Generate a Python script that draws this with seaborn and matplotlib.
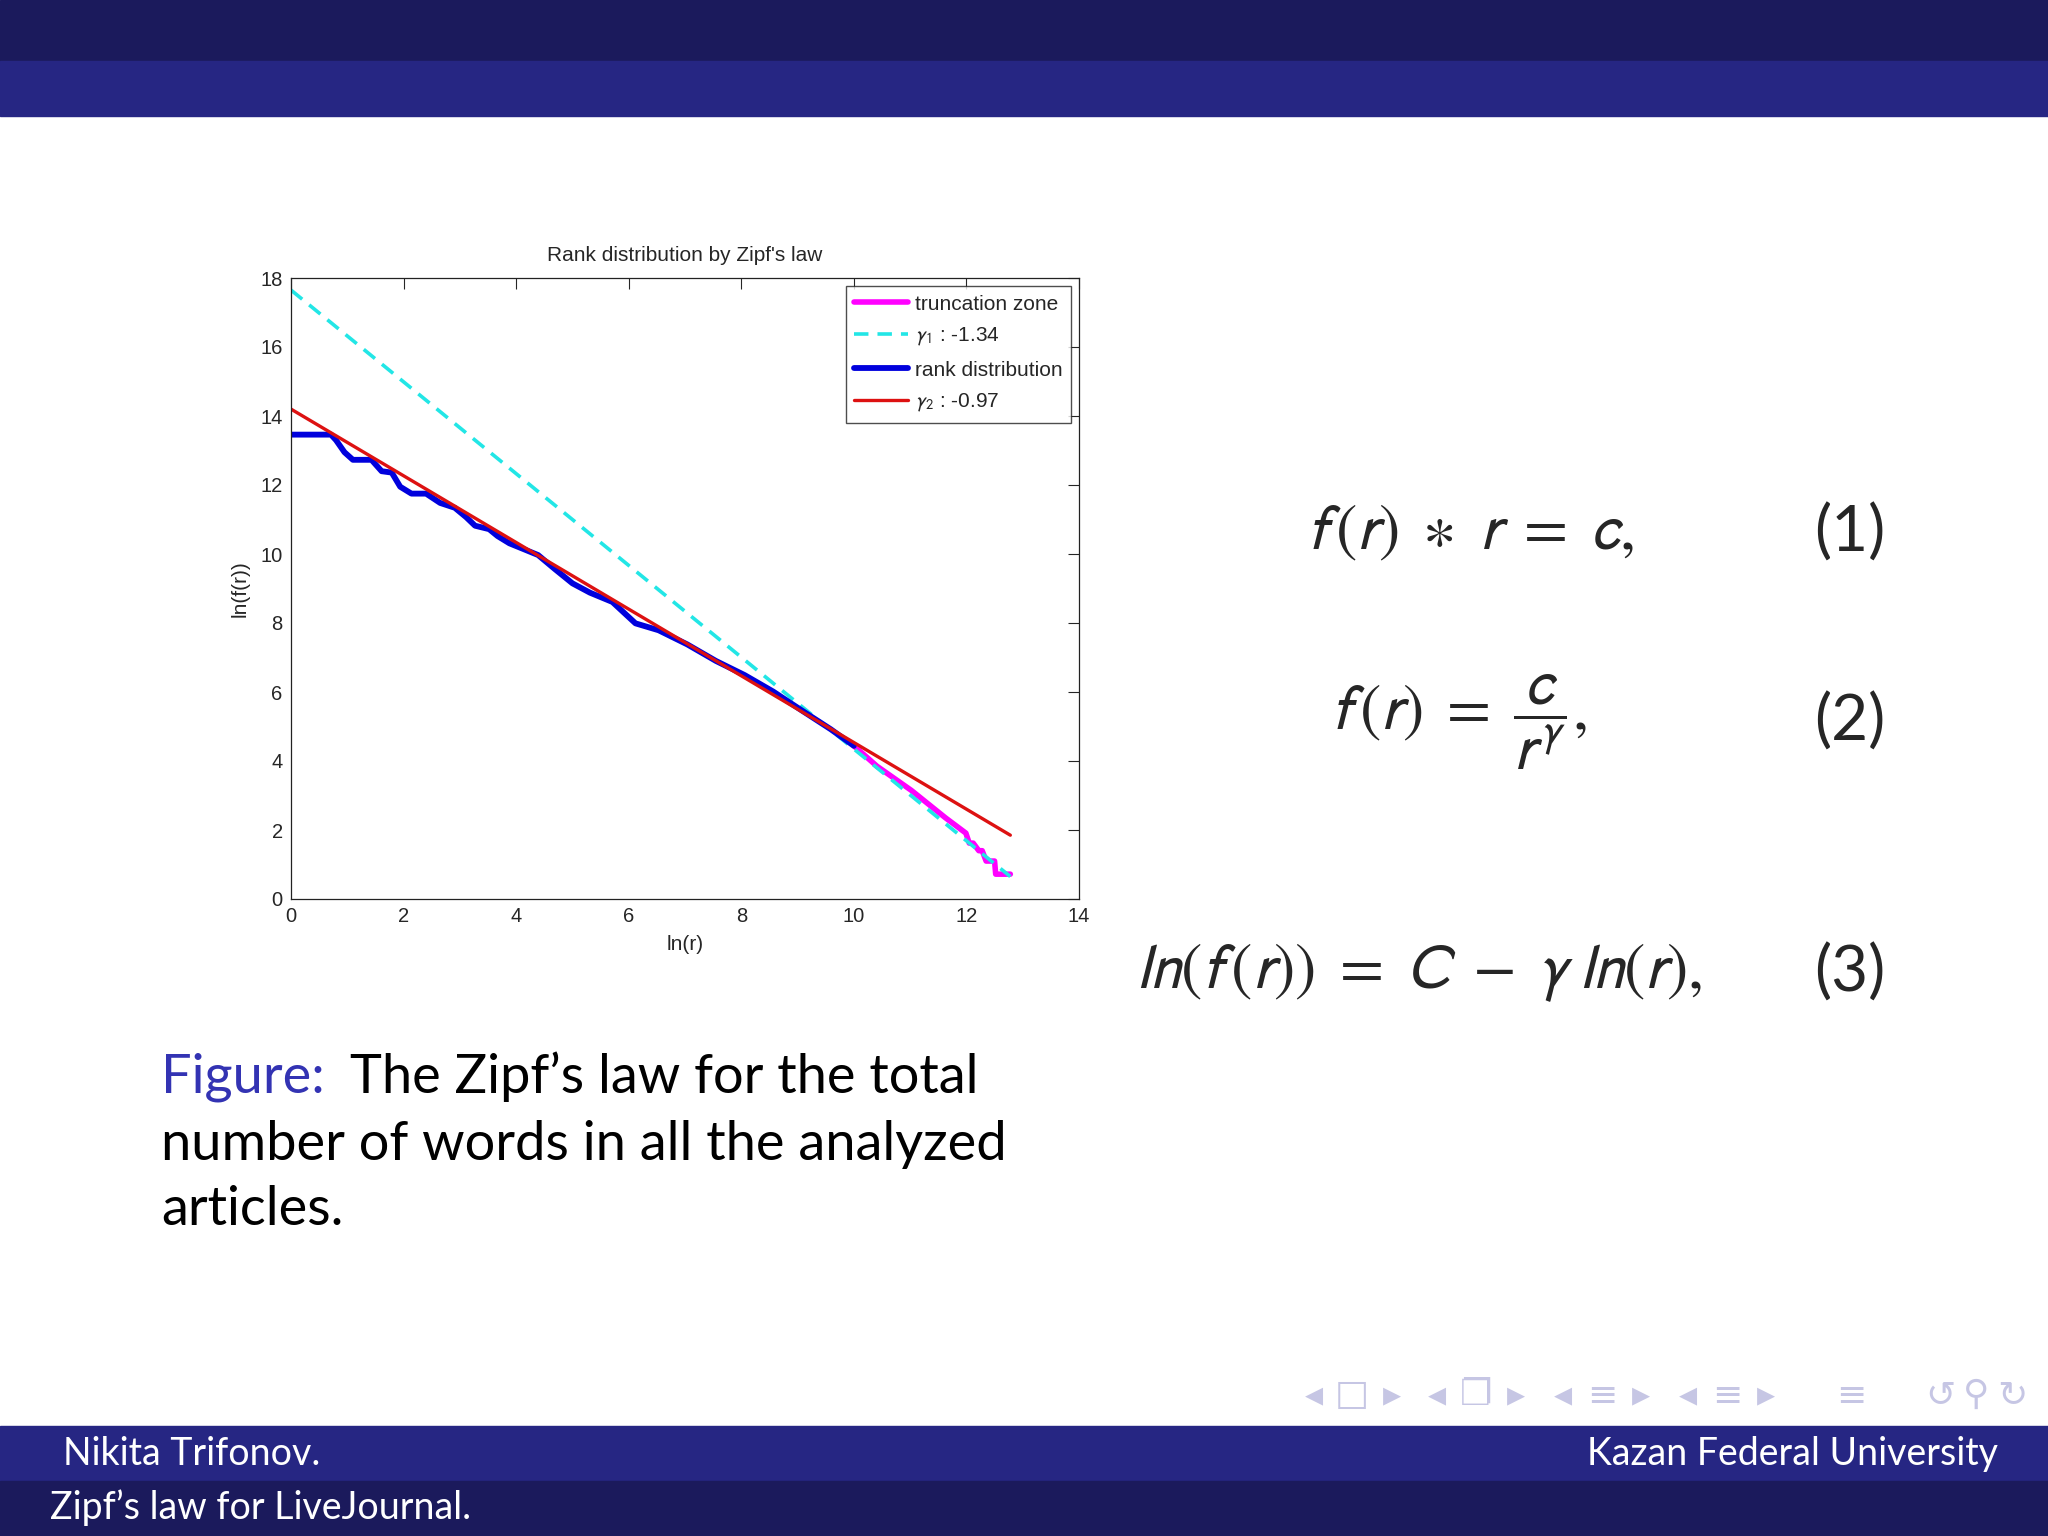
import matplotlib
matplotlib.use('Agg')
import matplotlib.pyplot as plt
import seaborn as sns
from matplotlib.patches import Rectangle

# Datos (ln(r), ln(f(r)))
rank_x = [0.0, 0.71, 0.80, 0.95, 1.10, 1.43, 1.61, 1.79, 1.94, 2.14, 2.40, 2.65,
          2.91, 3.11, 3.27, 3.52, 3.67, 3.88, 4.39, 4.69, 5.00, 5.31, 5.71, 6.12,
          6.53, 7.04, 7.55, 8.06, 8.57, 9.08, 9.59, 10.0]
rank_y = [13.46, 13.46, 13.30, 12.95, 12.73, 12.73, 12.40, 12.36, 11.95, 11.75, 11.75, 11.48,
          11.34, 11.07, 10.82, 10.72, 10.52, 10.31, 9.97, 9.56, 9.15, 8.88, 8.61, 7.99,
          7.79, 7.38, 6.90, 6.49, 6.01, 5.46, 4.92, 4.44]

trunc_x = [10.0, 10.41, 11.02, 11.63, 11.99, 12.05, 12.12, 12.22, 12.28, 12.35, 12.50, 12.52, 12.78]
trunc_y = [4.44, 3.85, 3.15, 2.35, 1.91, 1.62, 1.62, 1.40, 1.40, 1.10, 1.10, 0.72, 0.72]

# rectas ajustadas (extremos)
fit_x = [0.0, 12.78]
gamma1_y = [17.65, 0.65]
gamma2_y = [14.20, 1.85]

labels = ['truncation zone', r'$\gamma_1$ : -1.34', 'rank distribution', r'$\gamma_2$ : -0.97']
x_ticks = [0, 2, 4, 6, 8, 10, 12, 14]
y_ticks = [0, 2, 4, 6, 8, 10, 12, 14, 16, 18]

sns.set_style('white')
plt.rcParams['font.family'] = ['Liberation Sans', 'DejaVu Sans']
plt.rcParams['mathtext.fontset'] = 'stixsans'

fig = plt.figure(figsize=(20.48, 15.36), dpi=100)
W, H = 2048, 1536

# bandas de la plantilla beamer
dark = '#1b1a5c'
blue = '#262683'
for y0, h, c in [(H - 61, 61, dark), (H - 116, 55, blue), (55, 55, blue), (0, 55, dark)]:
    fig.patches.append(Rectangle((0, y0 / H), 1, h / H, transform=fig.transFigure,
                                 color=c, zorder=0))

ax = fig.add_axes([291 / W, 1 - 899 / H, (1079 - 291) / W, (899 - 278) / H])

sns.lineplot(x=trunc_x, y=trunc_y, ax=ax, color='#ff00ff', lw=4, sort=False,
             estimator=None, label=labels[0])
sns.lineplot(x=fit_x, y=gamma1_y, ax=ax, color='#22e6e6', lw=2.6, sort=False,
             estimator=None, label=labels[1], linestyle='--')
sns.lineplot(x=rank_x, y=rank_y, ax=ax, color='#0000dd', lw=4.2, sort=False,
             estimator=None, label=labels[2])
sns.lineplot(x=fit_x, y=gamma2_y, ax=ax, color='#dd1111', lw=2.4, sort=False,
             estimator=None, label=labels[3])
ax.lines[1].set_dashes([4, 2.5])

ax.set_xlim(0, 14)
ax.set_ylim(0, 18)
ax.set_xticks(x_ticks)
ax.set_yticks(y_ticks)
ax.tick_params(direction='in', length=8, width=0.8, top=True, right=True,
               labelsize=14.5, pad=6)
for s in ax.spines.values():
    s.set_color('#222222')
    s.set_linewidth(0.9)
ax.set_title("Rank distribution by Zipf's law", fontsize=15, pad=12)
ax.set_xlabel('ln(r)', fontsize=15, labelpad=6)
ax.set_ylabel('ln(f(r))', fontsize=15, labelpad=8)

leg = ax.legend(loc='upper right', fontsize=15, frameon=True, fancybox=False,
                handlelength=2.6, borderaxespad=0.4, labelspacing=0.6,
                handletextpad=0.3, borderpad=0.4)
leg.get_frame().set_edgecolor('#222222')
leg.get_frame().set_linewidth(1.0)

# texto de la diapositiva
slide_font = ['Lato', 'DejaVu Sans']
fig.text(161 / W, 1 - 1093 / H, 'Figure:', color='#3333b3', fontsize=39,
         family=slide_font, va='baseline')
fig.text(350 / W, 1 - 1093 / H, "The Zipf\u2019s law for the total", color='black',
         fontsize=39, family=slide_font, va='baseline')
fig.text(161 / W, 1 - 1160 / H, 'number of words in all the analyzed', color='black',
         fontsize=39, family=slide_font, va='baseline')
fig.text(161 / W, 1 - 1225 / H, 'articles.', color='black', fontsize=39,
         family=slide_font, va='baseline')

eqs = [r'$f\,(r)\;\ast\;r\;=\;c,$', r'$f\,(r)\;=\;\dfrac{c}{r^{\gamma}},$',
       r'$ln(f\,(r))\;=\;C\;-\;\gamma\, ln(r),$']
eq_left = [1306, 1330, 1136]
eq_y = [533, 722, 973]
for e, xl, yc, n in zip(eqs, eq_left, eq_y, ['(1)', '(2)', '(3)']):
    fig.text(xl / W, 1 - yc / H, e, fontsize=46, va='center', ha='left')
    fig.text(1885 / W, 1 - yc / H, n, fontsize=46, va='center', ha='right',
             family=slide_font)

# pie de pagina
fig.text(63 / W, 1 - 1454 / H, 'Nikita Trifonov.', color='white', fontsize=27,
         family=slide_font, va='center')
fig.text(1998 / W, 1 - 1454 / H, 'Kazan Federal University', color='white',
         fontsize=27, family=slide_font, va='center', ha='right')
fig.text(50 / W, 1 - 1508 / H, "Zipf\u2019s law for LiveJournal.", color='white',
         fontsize=27, family=slide_font, va='center')

# simbolos de navegacion
nav = '#c6c6e4'
nav_items = [(1314, '\u25c2'), (1352, '\u25a1'), (1392, '\u25b8'),
             (1437, '\u25c2'), (1476, '\u2750'), (1516, '\u25b8'),
             (1563, '\u25c2'), (1602, '\u2261'), (1641, '\u25b8'),
             (1688, '\u25c2'), (1727, '\u2261'), (1766, '\u25b8'),
             (1851, '\u2261'), (1940, '\u21ba'), (1976, '\u26b2'), (2012, '\u21bb')]
for xn, ch in nav_items:
    fig.text(xn / W, 1 - 1395 / H, ch, color=nav, fontsize=26, ha='center', va='center',
             family=['DejaVu Sans'])

fig.savefig('out.png', dpi=100, facecolor='white')
